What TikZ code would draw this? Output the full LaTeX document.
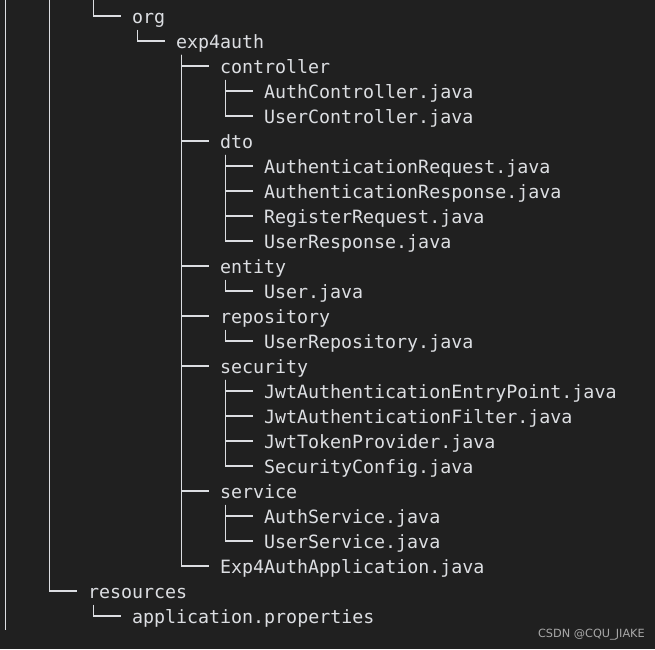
\documentclass[tikz,border=0pt]{standalone}
\usepackage{fontspec}
\setmonofont{DejaVu Sans Mono}
\newfontfamily\wmfont{DejaVu Sans}
\usetikzlibrary{calc}
\definecolor{bgc}{HTML}{202020}
\definecolor{txc}{HTML}{DCDEE2}
\definecolor{wmc}{HTML}{A8A8A8}
\tikzset{
  item/.style={anchor=base west, inner sep=0pt, outer sep=0pt, text=txc,
    font=\ttfamily\fontsize{18.3}{22}\selectfont},
  branch/.style={draw=txc, line width=1.2pt},
}
\newcommand{\link}[2]{\draw[branch] ($(#1.base west)+(5.5,6.5)$) |- ($(#2.base west)+(-11,-7)$);}
\begin{document}
\begin{tikzpicture}[x=1pt, y=-1pt]
\fill[bgc] (0,0) rectangle (655,649);
\useasboundingbox (0,0) rectangle (655,649);
% rows: baseline y = 23 + 25 i ; x = 11 * col
\node[item] (org) at (132,23) {org};
\node[item] (exp) at (176,48) {exp4auth};
\node[item] (ctl) at (220,73) {controller};
\node[item] (ac) at (264,98) {AuthController.java};
\node[item] (uc) at (264,123) {UserController.java};
\node[item] (dto) at (220,148) {dto};
\node[item] (areq) at (264,173) {AuthenticationRequest.java};
\node[item] (ares) at (264,198) {AuthenticationResponse.java};
\node[item] (rreq) at (264,223) {RegisterRequest.java};
\node[item] (ures) at (264,248) {UserResponse.java};
\node[item] (ent) at (220,273) {entity};
\node[item] (user) at (264,298) {User.java};
\node[item] (repo) at (220,323) {repository};
\node[item] (urepo) at (264,348) {UserRepository.java};
\node[item] (sec) at (220,373) {security};
\node[item] (jep) at (264,398) {JwtAuthenticationEntryPoint.java};
\node[item] (jaf) at (264,423) {JwtAuthenticationFilter.java};
\node[item] (jtp) at (264,448) {JwtTokenProvider.java};
\node[item] (scf) at (264,473) {SecurityConfig.java};
\node[item] (svc) at (220,498) {service};
\node[item] (asv) at (264,523) {AuthService.java};
\node[item] (usv) at (264,548) {UserService.java};
\node[item] (app) at (220,573) {Exp4AuthApplication.java};
\node[item] (res) at (88,598) {resources};
\node[item] (props) at (132,623) {application.properties};
% outer guides
\coordinate (g0top) at (5.5,0);
\coordinate (g0bot) at (5.5,630);
\coordinate (g1top) at (49.5,0);
\coordinate (g2top) at (93.5,0);
\draw[branch] (g0top) -- (g0bot);
\draw[branch] (g1top) |- ($(res.base west)+(-11,-7)$);
\draw[branch] (g2top) |- ($(org.base west)+(-11,-7)$);
% tree links
\link{org}{exp}
\link{exp}{ctl}
\link{exp}{dto}
\link{exp}{ent}
\link{exp}{repo}
\link{exp}{sec}
\link{exp}{svc}
\link{exp}{app}
\link{ctl}{ac}
\link{ctl}{uc}
\link{dto}{areq}
\link{dto}{ares}
\link{dto}{rreq}
\link{dto}{ures}
\link{ent}{user}
\link{repo}{urepo}
\link{sec}{jep}
\link{sec}{jaf}
\link{sec}{jtp}
\link{sec}{scf}
\link{svc}{asv}
\link{svc}{usv}
\link{res}{props}
% watermark
\node[anchor=east, inner sep=0pt, text=wmc, font=\wmfont\fontsize{11.3}{13}\selectfont] (wm) at (645,634.5) {CSDN @CQU\_JIAKE};
\end{tikzpicture}
\end{document}
